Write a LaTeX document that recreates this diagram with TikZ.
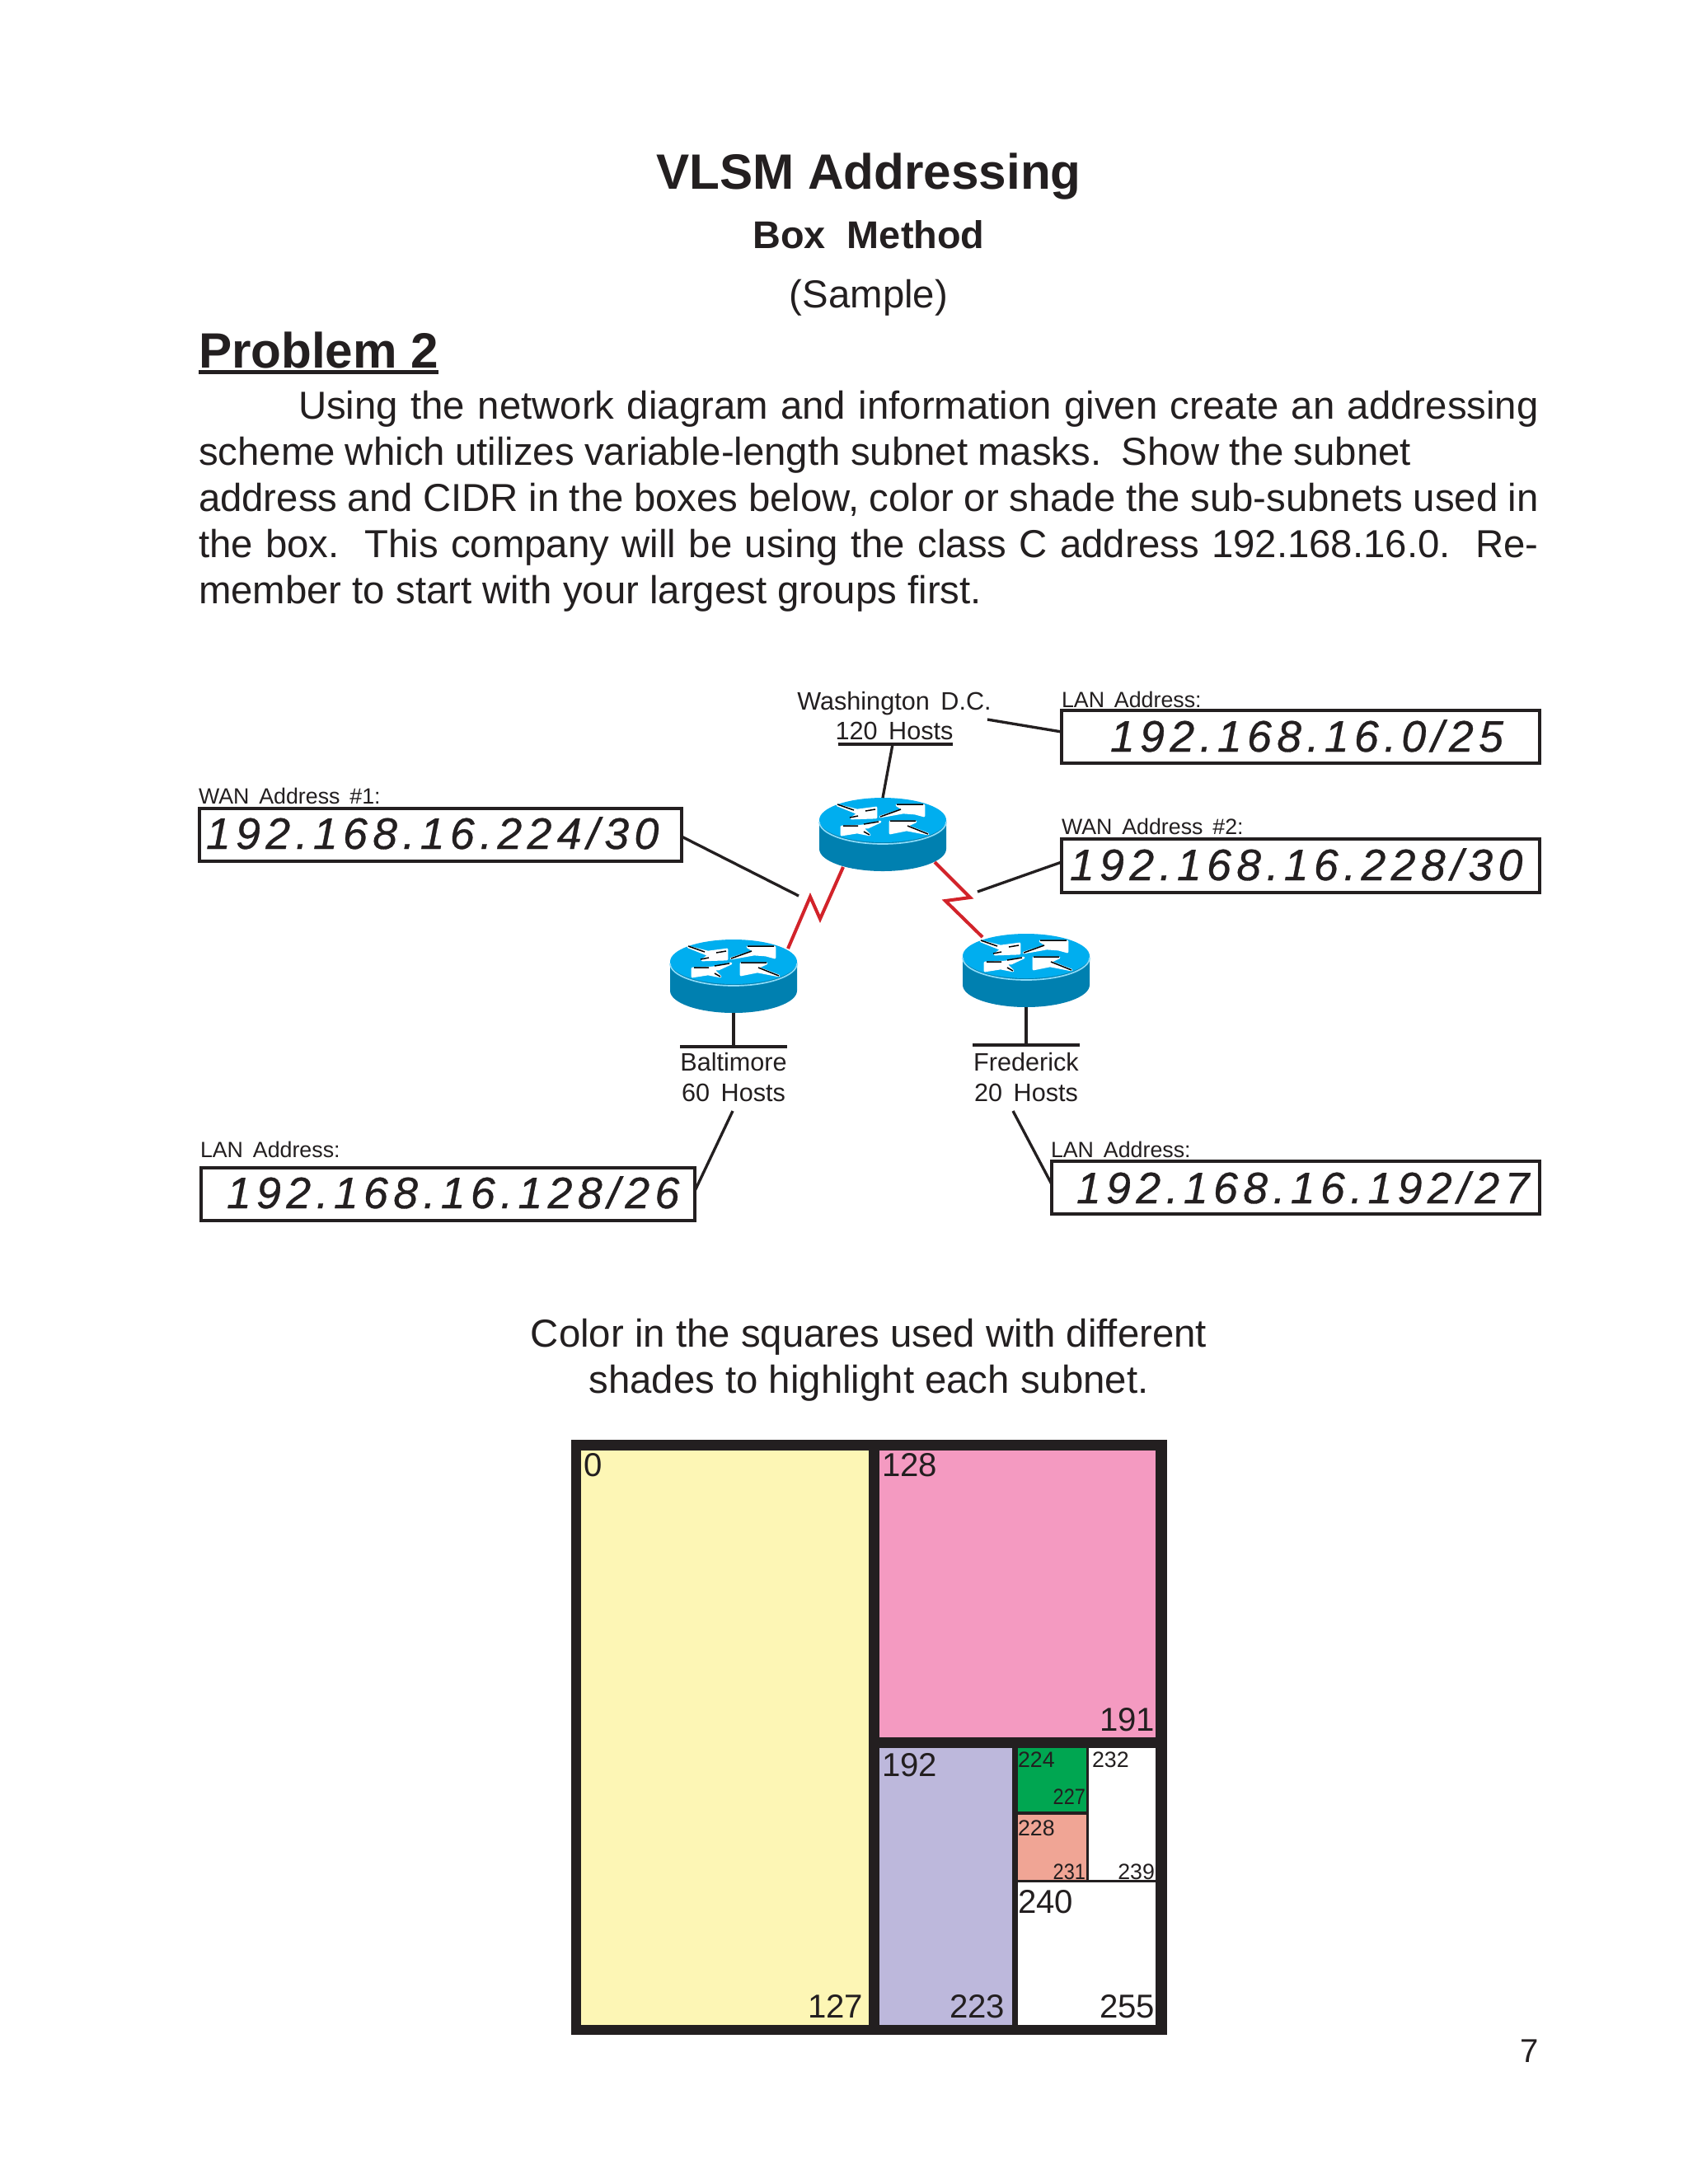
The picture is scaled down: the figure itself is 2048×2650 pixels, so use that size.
\documentclass[tikz,border=0pt]{standalone}
\usepackage{fontspec}
\setmainfont{Liberation Sans}
\newfontfamily\handfont[ItalicFont=Liberation Sans Italic,ItalicFeatures={FakeBold=0.6},LetterSpace=12]{Liberation Sans}
\newfontfamily\labelfont[WordSpace=1.6]{Liberation Sans}
\definecolor{ink}{HTML}{231F20}
\definecolor{rtop}{HTML}{00AEEF}
\definecolor{rside}{HTML}{0080B0}
\definecolor{boltred}{HTML}{D2232A}
\definecolor{cyellow}{HTML}{FDF6B5}
\definecolor{cpink}{HTML}{F49AC1}
\definecolor{cpurple}{HTML}{BDB8DC}
\definecolor{cgreen}{HTML}{00A651}
\definecolor{csalmon}{HTML}{F0A595}
\tikzset{
  txt/.style={inner sep=0pt,outer sep=0pt,text=ink,anchor=base},
  title/.style={txt,font=\fontsize{18}{20}\bfseries},
  subtitle/.style={txt,font=\fontsize{14}{16}\bfseries},
  plain/.style={txt,font=\fontsize{14.15}{16}\selectfont},
  body/.style={plain,anchor=base west},
  lbl/.style={txt,font=\labelfont\fontsize{9.15}{11}\selectfont},
  addrlbl/.style={txt,anchor=base west,font=\labelfont\fontsize{8}{10}\selectfont},
  addrbox/.style={draw=ink,line width=1pt,fill=white,inner sep=0pt,outer sep=0pt,anchor=north west},
  hand/.style={txt,anchor=base west,font=\handfont\itshape\fontsize{16}{18}\selectfont},
  conn/.style={draw=ink,line width=1pt},
  bolt/.style={draw=boltred,line width=1.2pt,line join=miter},
  big/.style={txt,font=\fontsize{12}{14}\selectfont},
  small/.style={txt,font=\fontsize{8}{10}\selectfont},
  rarrow/.style={fill=white,draw=white,line width=0.8pt,line join=round},
}
\newcommand{\routerat}[3]{% name, x, y of the top centre
  \begin{scope}[shift={(#2,#3)}]
    \fill[rside] (-77,0) -- (-77,35) arc[x radius=77,y radius=27,start angle=180,end angle=0] -- (77,0) -- cycle;
    \fill[rtop] (0,0) ellipse[x radius=77,y radius=27];
    \draw[white!55!rtop,line width=0.5pt] (-77,2) arc[x radius=77,y radius=27,start angle=180,end angle=0];
    \path[rarrow] (-55,-18) -- (-31,-12) -- (-8,-15) -- (-8,-3) -- (-38,-2) -- (-30,-8) -- cycle;
    \path[rarrow] (17,-18) -- (50,-18) -- (50,-5) -- (39,-8) -- (25,-9) -- (-3,-4) -- (25,-13) -- cycle;
    \path[rarrow] (-3,2) -- (-18,9) -- (-25,9) -- (-16,18) -- (-31,15) -- (-50,18) -- (-50,8) -- (-25,7) -- cycle;
    \path[rarrow] (9,2) -- (40,2) -- (29,7) -- (55,17) -- (29,12) -- (9,16) -- cycle;
    \draw[black,line width=0.45pt] (-55,-19) -- (-35,-12) (-40,-3) -- (-30,-5) (-21,-11) -- (-9,-13)
      (17,-19) -- (49,-19) (-3,-4) -- (22,-13)
      (-48,7) -- (-30,7) (-23,5) -- (-5,2) (-23,14) -- (-16,18)
      (9,1) -- (40,1) (30,7) -- (55,17);
    \node[inner sep=0pt,outer sep=0pt,minimum width=46pt,minimum height=26.5pt,yshift=-5.2pt] (#1) at (0,0) {};
  \end{scope}
}
\begin{document}
\begin{tikzpicture}[x=0.29883pt,y=-0.29883pt]
\useasboundingbox[fill=white] (0,0) rectangle (2048,2650);

% headings
\node[title] (ttl) at (1054,229) {VLSM Addressing};
\node[subtitle] (sub) at (1054,301) {Box\ \ Method};
\node[plain] (smp) at (1054,373) {(Sample)};
\node[title,anchor=base west] (prob) at (241,446) {Problem 2};
\fill[ink] (241,449) rectangle (532,454);

% paragraph
\node[body] (l1) at (362,508) {\hbox to 449.7pt{Using the network diagram and information given create an addressing}};
\node[body] (l2) at (241,564) {\hbox to 439.6pt{scheme which utilizes variable-length subnet masks.\ \ Show the subnet}};
\node[body] (l3) at (241,620) {\hbox to 485.9pt{address and CIDR in the boxes below, color or shade the sub-subnets used in}};
\node[body] (l4) at (241,676) {\hbox to 485.9pt{the box.\ \ This company will be using the class C address 192.168.16.0.\ \ Re-}};
\node[body] (l5) at (241,732) {member to start with your largest groups first.};

% address boxes
\node[addrbox,minimum width=173.3pt,minimum height=19.1pt] (lan1) at (1288,862) {};
\node[addrbox,minimum width=173.3pt,minimum height=19.4pt] (wan2) at (1288,1018) {};
\node[addrbox,minimum width=174.8pt,minimum height=19.1pt] (wan1) at (242,981) {};
\node[addrbox,minimum width=179pt,minimum height=19.1pt] (lan2) at (244,1417) {};
\node[addrbox,minimum width=176.9pt,minimum height=19.1pt] (lan3) at (1276,1409) {};

\node[addrlbl] (tl1) at (1288,858) {LAN Address:};
\node[addrlbl] (tw2) at (1288,1012) {WAN Address \#2:};
\node[addrlbl] (tw1) at (241,975) {WAN Address \#1:};
\node[addrlbl] (tl2) at (243,1404) {LAN Address:};
\node[addrlbl] (tl3) at (1275,1404) {LAN Address:};

\node[hand] (h1) at (1347,912) {192.168.16.0/25};
\node[hand] (h2) at (1298,1068) {192.168.16.228/30};
\node[hand] (h3) at (250,1030) {192.168.16.224/30};
\node[hand] (h4) at (275,1466) {192.168.16.128/26};
\node[hand] (h5) at (1306,1460) {192.168.16.192/27};

% routers
\routerat{r1}{1071}{995}
\routerat{r2}{890}{1167}
\routerat{r3}{1245}{1160}

% site labels
\node[lbl] (dc) at (1085,861) {Washington D.C.};
\node[lbl] (dch) at (1085,897) {120 Hosts};
\node[lbl] (bal) at (890,1299) {Baltimore};
\node[lbl] (balh) at (890,1336) {60 Hosts};
\node[lbl] (fre) at (1245,1299) {Frederick};
\node[lbl] (freh) at (1245,1336) {20 Hosts};

\coordinate (u1a) at (1017,903); \coordinate (u1b) at (1156,903); \coordinate (u1c) at (1083,903);
\coordinate (u2a) at (825,1270); \coordinate (u2b) at (955,1270); \coordinate (u2c) at (890,1270);
\coordinate (u3a) at (1180,1268); \coordinate (u3b) at (1310,1268); \coordinate (u3c) at (1245,1268);
\draw[conn] (u1a) -- (u1b);
\draw[conn] (u2a) -- (u2b);
\draw[conn] (u3a) -- (u3b);
\draw[conn] (u1c) -- (r1.north);
\draw[conn] (r2.south) -- (u2c);
\draw[conn] (r3.south) -- (u3c);

\coordinate (e1) at (1198,873);
\coordinate (e2) at (1186,1082);
\coordinate (e3) at (969,1087);
\coordinate (e4) at (889,1348);
\coordinate (e5) at (1229,1348);
\draw[conn] (e1) -- (lan1.west |- 0,888);
\draw[conn] (e2) -- (wan2.west |- 0,1046);
\draw[conn] (e3) -- (wan1.east |- 0,1015);
\draw[conn] (e4) -- (lan2.east |- 0,1445);
\draw[conn] (e5) -- (lan3.west |- 0,1437);

% serial links
\coordinate (b1) at (1023,1052); \coordinate (b2) at (995,1115); \coordinate (b3) at (983,1088); \coordinate (b4) at (956,1151);
\coordinate (c1) at (1134,1046); \coordinate (c2) at (1177,1089); \coordinate (c3) at (1147,1093); \coordinate (c4) at (1192,1137);
\draw[bolt] (b1) -- (b2) -- (b3) -- (b4);
\draw[bolt] (c1) -- (c2) -- (c3) -- (c4);

% instruction
\node[plain] (c1t) at (1054,1634) {Color in the squares used with different};
\node[plain] (c2t) at (1054,1690) {shades to highlight each subnet.};

% box
\fill[ink] (693,1747) rectangle (1416,2469);
\fill[cyellow] (705,1760) rectangle (1054,2457);
\fill[cpink] (1067,1760) rectangle (1402,2108);
\fill[cpurple] (1067,2121) rectangle (1228,2457);
\fill[cgreen] (1235,2121) rectangle (1318,2198);
\fill[csalmon] (1235,2202) rectangle (1318,2281);
\fill[white] (1321,2121) rectangle (1402,2281);
\fill[white] (1235,2284) rectangle (1402,2457);

\node[big,anchor=base west] (n0) at (708,1791) {0};
\node[big,anchor=base east] (n127) at (1047,2448) {127};
\node[big,anchor=base west] (n128) at (1070,1791) {128};
\node[big,anchor=base east] (n191) at (1401,2100) {191};
\node[big,anchor=base west] (n192) at (1070,2155) {192};
\node[big,anchor=base east] (n223) at (1219,2448) {223};
\node[big,anchor=base west] (n240) at (1235,2321) {240};
\node[big,anchor=base east] (n255) at (1401,2448) {255};
\node[small,anchor=base west] (n224) at (1235,2144) {224};
\node[small,anchor=base east] (n227) at (1317,2189) {\scalebox{0.88}[1]{227}};
\node[small,anchor=base west] (n228) at (1235,2227) {228};
\node[small,anchor=base east] (n231) at (1317,2280) {\scalebox{0.88}[1]{231}};
\node[small,anchor=base west] (n232) at (1325,2144) {232};
\node[small,anchor=base east] (n239) at (1401,2280) {239};

\node[txt,font=\fontsize{12}{14}\selectfont] (pg) at (1856,2502) {7};
\end{tikzpicture}
\end{document}
